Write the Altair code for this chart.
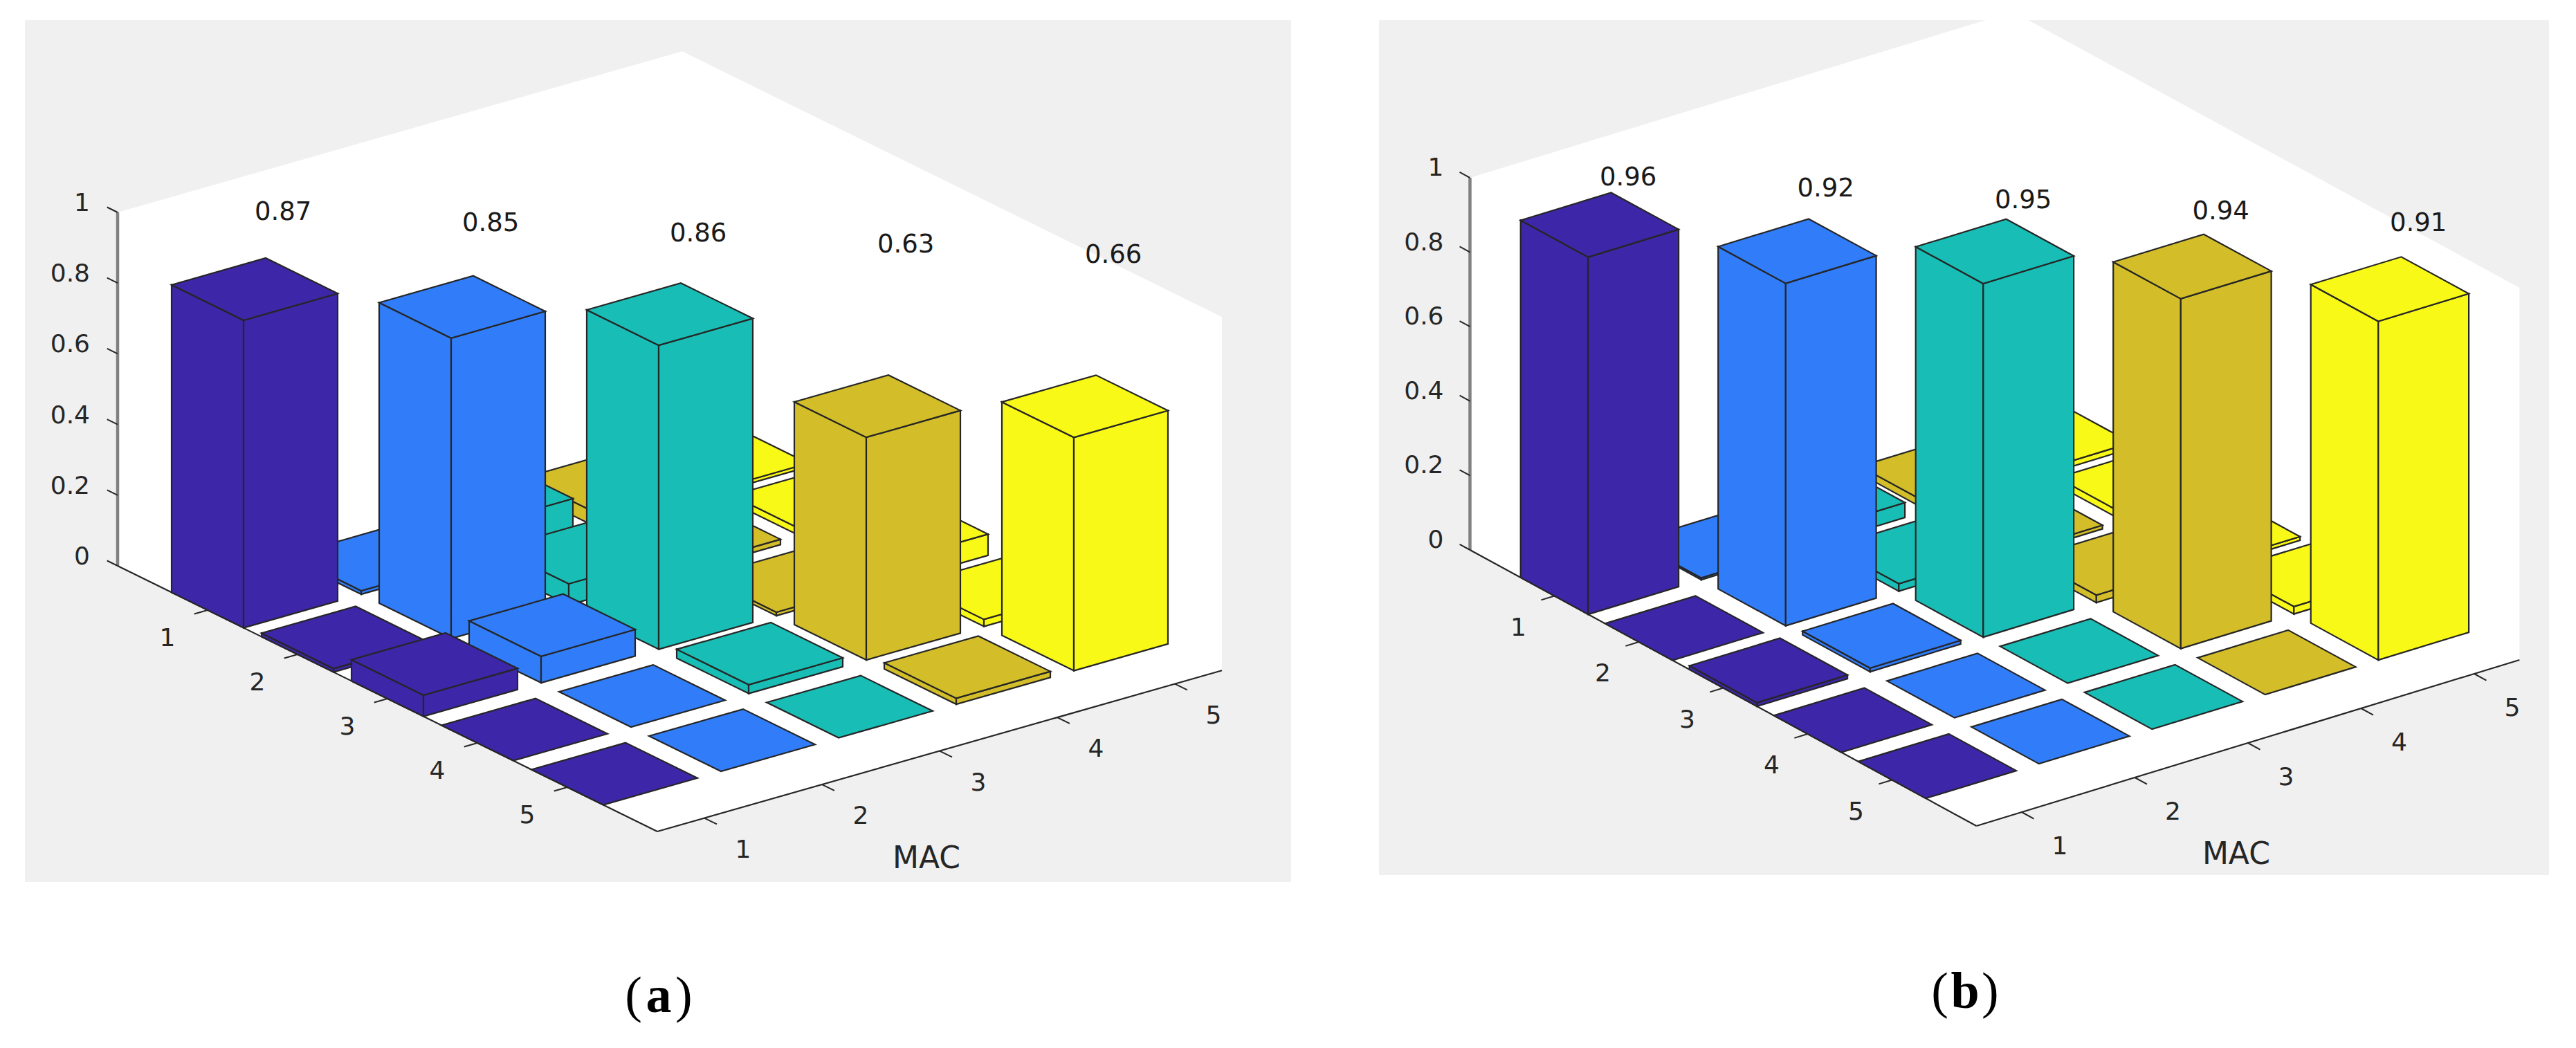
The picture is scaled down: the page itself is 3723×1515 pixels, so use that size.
import altair as alt

# ---------------- data ----------------
ROW_TICKS = [1, 2, 3, 4, 5]
COL_TICKS = [1, 2, 3, 4, 5]
Z_TICKS = [0, 0.2, 0.4, 0.6, 0.8, 1]
Z_TICK_LABELS = ["0", "0.2", "0.4", "0.6", "0.8", "1"]
AXIS_TITLE = "MAC"
PANELS = ["a", "b"]
COL_COLORS = ["#3E26A8", "#317DF9", "#18BEB5", "#D3BE29", "#F9F917"]

# MAC matrices: rows = row index (front-left axis), columns = MAC axis
MAC_A = [
    [0.87, 0.01, 0.10, 0.04, 0.01],
    [0.01, 0.85, 0.06, 0.015, 0.02],
    [0.06, 0.075, 0.86, 0.01, 0.06],
    [0.00, 0.00, 0.025, 0.63, 0.02],
    [0.00, 0.00, 0.00, 0.017, 0.66],
]
MAC_B = [
    [0.96, 0.005, 0.04, 0.02, 0.015],
    [0.00, 0.92, 0.02, 0.01, 0.02],
    [0.01, 0.01, 0.95, 0.02, 0.01],
    [0.00, 0.00, 0.00, 0.94, 0.02],
    [0.00, 0.00, 0.00, 0.00, 0.91],
]
MATRICES = {"a": MAC_A, "b": MAC_B}

# ---------------- view (3-D axes -> page) ----------------
X_MIN, X_MAX, Y_MIN, Y_MAX = 0.6, 5.4, 0.0, 6.0
BAR_HALF = 0.4
LABEL_Z = 1.087
VIEWS = {
    "a": dict(o=(170, 818), ex=(170, -48.5), ey=(130, 64), ez=(0, -511),
              bg=(36, 29, 1866, 1275), row_off=(-58, 41), col_off=(56, 46),
              title_off=(-19, 156), z_off=(-40, -13), cap=(952, 1463)),
    "b": dict(o=(2124.5, 795), ex=(163.5, -50), ey=(122, 66.5), ez=(0, -538),
              bg=(1993, 29, 3684, 1265), row_off=(-52, 46), col_off=(55, 50),
              title_off=(-17, 162), z_off=(-38, -14), cap=(2840, 1457)),
}

EDGE = "#262626"
GRAY_BG = "#F0F0F0"


def proj(v, x, y, z):
    return [v["o"][0] + (x - X_MIN) * v["ex"][0] + (y - Y_MIN) * v["ey"][0] + z * v["ez"][0],
            v["o"][1] + (x - X_MIN) * v["ex"][1] + (y - Y_MIN) * v["ey"][1] + z * v["ez"][1]]


def unit(vec, length):
    n = (vec[0] ** 2 + vec[1] ** 2) ** 0.5
    return (vec[0] / n * length, vec[1] / n * length)


features = []


def add_poly(pts, fill, stroke="none", sw=0):
    ring = [list(p) for p in pts] + [list(pts[0])]
    features.append({"type": "Feature",
                     "geometry": {"type": "Polygon", "coordinates": [ring]},
                     "properties": {"fill": fill, "stroke": stroke, "sw": sw}})


def add_line(pts, stroke, sw):
    features.append({"type": "Feature",
                     "geometry": {"type": "LineString", "coordinates": [list(p) for p in pts]},
                     "properties": {"fill": "none", "stroke": stroke, "sw": sw}})


value_txt, ztick_txt, tick_txt, title_txt, cap_l, cap_r, cap_let = [], [], [], [], [], [], []

for key in PANELS:
    v = VIEWS[key]
    mat = MATRICES[key]
    P = lambda x, y, z, v=v: proj(v, x, y, z)
    x0, y0, x1, y1 = v["bg"]
    add_poly([(x0, y0), (x1, y0), (x1, y1), (x0, y1)], GRAY_BG)
    # back walls + floor
    add_poly([P(X_MIN, Y_MIN, 0), P(X_MIN, Y_MIN, 1), P(X_MAX, Y_MIN, 1),
              P(X_MAX, Y_MAX, 1), P(X_MAX, Y_MAX, 0), P(X_MIN, Y_MAX, 0)], "white")
    # axes lines
    add_line([P(X_MIN, Y_MIN, 0), P(X_MIN, Y_MIN, 1)], "#808080", 4.5)
    add_line([P(X_MIN, Y_MIN, 0), P(X_MIN, Y_MAX, 0)], EDGE, 2.2)
    add_line([P(X_MIN, Y_MAX, 0), P(X_MAX, Y_MAX, 0)], EDGE, 2.2)
    # z ticks
    tz = unit((-v["ey"][0], -v["ey"][1]), 17)
    for z, lab in zip(Z_TICKS, Z_TICK_LABELS):
        p = P(X_MIN, Y_MIN, z)
        add_line([p, (p[0] + tz[0], p[1] + tz[1])], EDGE, 2)
        ztick_txt.append({"lon": p[0] + v["z_off"][0], "lat": p[1] + v["z_off"][1], "t": lab})
    # row ticks
    tr = unit((-v["ex"][0], -v["ex"][1]), 20)
    for r in ROW_TICKS:
        p = P(X_MIN, r, 0)
        add_line([p, (p[0] + tr[0], p[1] + tr[1])], EDGE, 2)
        tick_txt.append({"lon": p[0] + v["row_off"][0], "lat": p[1] + v["row_off"][1], "t": str(r)})
    # column ticks
    tc = unit(v["ey"], 20)
    for c in COL_TICKS:
        p = P(c, Y_MAX, 0)
        add_line([p, (p[0] + tc[0], p[1] + tc[1])], EDGE, 2)
        tick_txt.append({"lon": p[0] + v["col_off"][0], "lat": p[1] + v["col_off"][1], "t": str(c)})
    p = P(3, Y_MAX, 0)
    title_txt.append({"lon": p[0] + v["title_off"][0], "lat": p[1] + v["title_off"][1], "t": AXIS_TITLE})
    # bars, painter's order (far to near)
    cells = [(r, c) for r in ROW_TICKS for c in COL_TICKS]
    cells.sort(key=lambda rc: rc[1] - rc[0], reverse=True)
    for r, c in cells:
        h = mat[r - 1][c - 1]
        col = COL_COLORS[c - 1]
        bx0, bx1 = c - BAR_HALF, c + BAR_HALF
        by0, by1 = r - BAR_HALF, r + BAR_HALF
        if h > 0:
            add_poly([P(bx0, by0, 0), P(bx0, by1, 0), P(bx0, by1, h), P(bx0, by0, h)], col, EDGE, 2.2)
            add_poly([P(bx0, by1, 0), P(bx1, by1, 0), P(bx1, by1, h), P(bx0, by1, h)], col, EDGE, 2.2)
        add_poly([P(bx0, by0, h), P(bx0, by1, h), P(bx1, by1, h), P(bx1, by0, h)], col, EDGE, 2.2)
    # diagonal value labels
    for i in ROW_TICKS:
        p = P(i, i, LABEL_Z)
        value_txt.append({"lon": p[0], "lat": p[1], "t": f"{mat[i - 1][i - 1]:.2f}"})
    cx, cy = v["cap"]
    cap_l.append({"lon": cx - 24, "lat": cy, "t": "("})
    cap_r.append({"lon": cx + 24, "lat": cy, "t": ")"})
    cap_let.append({"lon": cx, "lat": cy, "t": key})

PROJ = dict(type="identity", scale=1, translate=[-8, -8])

shapes = alt.Chart(alt.Data(values=features)).mark_geoshape().encode(
    fill=alt.Fill("properties.fill:N", scale=None),
    stroke=alt.Stroke("properties.stroke:N", scale=None),
    strokeWidth=alt.StrokeWidth("properties.sw:Q", scale=None),
).project(**PROJ)


def text_layer(rows, **kw):
    return alt.Chart(alt.Data(values=rows)).mark_text(**kw).encode(
        longitude="lon:Q", latitude="lat:Q", text="t:N").project(**PROJ)


FONT = "DejaVu Sans"
SERIF = "Liberation Serif"
values_l = text_layer(value_txt, align="left", baseline="middle", fontSize=37, font=FONT, color="#1a1a1a")
zticks_l = text_layer(ztick_txt, align="right", baseline="middle", fontSize=36, font=FONT, color="#262626")
ticks_l = text_layer(tick_txt, align="center", baseline="middle", fontSize=36, font=FONT, color="#262626")
title_l = text_layer(title_txt, align="center", baseline="middle", fontSize=44, font=FONT, color="#262626")
par_l = text_layer(cap_l, align="right", baseline="alphabetic", fontSize=74, font=SERIF, color="black")
par_r = text_layer(cap_r, align="left", baseline="alphabetic", fontSize=74, font=SERIF, color="black")
let_l = text_layer(cap_let, align="center", baseline="alphabetic", fontSize=74, font=SERIF,
                   fontWeight="bold", color="black")

chart = alt.layer(shapes, values_l, zticks_l, ticks_l, title_l, par_l, par_r, let_l).properties(
    width=3700, height=1490, padding=0, background="white"
).configure_view(strokeWidth=0)

chart.save("out.html", embed_options={"renderer": "svg", "actions": False})
